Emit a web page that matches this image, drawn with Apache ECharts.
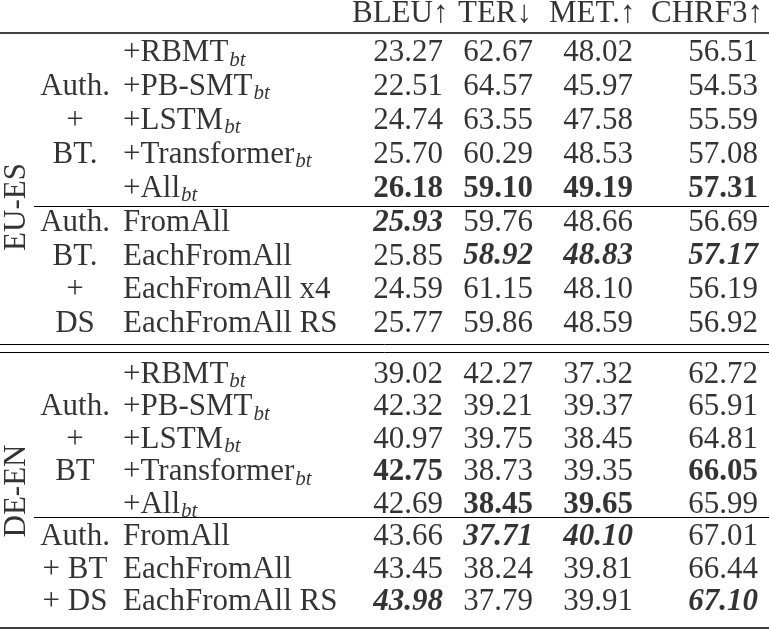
<!DOCTYPE html>
<html><head><meta charset="utf-8">
<script src="https://cdn.jsdelivr.net/npm/echarts@6/dist/echarts.min.js"></script>
<style>html,body{margin:0;padding:0;background:#fff}#c{width:769px;height:634px}</style>
</head><body><div id="c"></div>
<script>
// ---------- data ----------
const metrics = ['BLEU_↑', 'TER_↓', 'MET._↑', 'CHRF3_↑'];
const blockNames = ['EU-ES', 'DE-EN'];

const euSystems = ['+RBMT_bt', '+PB-SMT_bt', '+LSTM_bt', '+Transformer_bt', '+All_bt',
  'FromAll', 'EachFromAll', 'EachFromAll x4', 'EachFromAll RS'];
const euGroups = ['', 'Auth.', '+', 'BT.', '', 'Auth.', 'BT.', '+', 'DS'];
const euBLEU = [23.27, 22.51, 24.74, 25.70, 26.18, 25.93, 25.85, 24.59, 25.77];
const euTER  = [62.67, 64.57, 63.55, 60.29, 59.10, 59.76, 58.92, 61.15, 59.86];
const euMET  = [48.02, 45.97, 47.58, 48.53, 49.19, 48.66, 48.83, 48.10, 48.59];
const euCHRF = [56.51, 54.53, 55.59, 57.08, 57.31, 56.69, 57.17, 56.19, 56.92];
// b = bold, i = bold italic, . = regular (per metric column)
const euEmph = ['....', '....', '....', '....', 'bbbb', 'i...', '.iii', '....', '....'];

const deSystems = ['+RBMT_bt', '+PB-SMT_bt', '+LSTM_bt', '+Transformer_bt', '+All_bt',
  'FromAll', 'EachFromAll', 'EachFromAll RS'];
const deGroups = ['', 'Auth.', '+', 'BT', '', 'Auth.', '+ BT', '+ DS'];
const deBLEU = [39.02, 42.32, 40.97, 42.75, 42.69, 43.66, 43.45, 43.98];
const deTER  = [42.27, 39.21, 39.75, 38.73, 38.45, 37.71, 38.24, 37.79];
const deMET  = [37.32, 39.37, 38.45, 39.35, 39.65, 40.10, 39.81, 39.91];
const deCHRF = [62.72, 65.91, 64.81, 66.05, 65.99, 67.01, 66.44, 67.10];
const deEmph = ['....', '....', '....', 'b..b', '.bb.', '.ii.', '....', 'i..i'];

// ---------- layout ----------
const W = 769, H = 634;
const FONT = 'Liberation Serif';
const FS = 31;
const DY = 2;
const headerY = 14;
const headerLeft = [352, 458, 549, 651];
const numRight = [443, 533, 633, 758];
const groupX = 75, sysX = 123, blockX = 17;
const blocks = [
  { name: blockNames[0], sys: euSystems, grp: euGroups, vals: [euBLEU, euTER, euMET, euCHRF], emph: euEmph,
    y0: 51, pitch: 33.9, labelY: 207 },
  { name: blockNames[1], sys: deSystems, grp: deGroups, vals: [deBLEU, deTER, deMET, deCHRF], emph: deEmph,
    y0: 372.5, pitch: 32.5, labelY: 491 }
];

const items = [];
function txt(x, y, formatter, extra) {
  items.push({ value: [x, y], label: Object.assign({ formatter: formatter }, extra || {}) });
}
metrics.forEach((m, k) => {
  const p = m.split('_');
  txt(headerLeft[k], headerY, '{m|' + p[0] + '}{a|' + p[1] + '}', { align: 'left' });
});
blocks.forEach(b => {
  txt(blockX, b.labelY, b.name, { align: 'center', rotate: 90 });
  b.sys.forEach((s, i) => {
    const y = b.y0 + b.pitch * i + DY;
    if (b.grp[i]) txt(groupX, y, b.grp[i], { align: 'center' });
    const parts = s.split('_');
    const f = parts.length > 1 ? '{m|' + parts[0] + '}{s|' + parts[1] + '}' : '{m|' + parts[0] + '}';
    txt(sysX, y, f, { align: 'left' });
    b.vals.forEach((arr, k) => {
      const e = b.emph[i][k];
      txt(numRight[k], y, arr[i].toFixed(2), {
        align: 'right',
        fontWeight: e === '.' ? 'normal' : 'bold',
        fontStyle: e === 'i' ? 'italic' : 'normal'
      });
    });
  });
});

const rules = [
  [0, W, 33, 1.6],
  [34, W, 206.5, 1],
  [0, W, 344, 1],
  [0, W, 352, 1],
  [34, W, 517, 1],
  [0, W, 628, 1.6]
];

const chart = echarts.init(document.getElementById('c'));
chart.setOption({
  animation: false,
  backgroundColor: '#fff',
  grid: { left: 0, right: 0, top: 0, bottom: 0 },
  xAxis: { type: 'value', min: 0, max: W, show: false },
  yAxis: { type: 'value', min: 0, max: H, inverse: true, show: false },
  series: [{
    type: 'scatter',
    symbolSize: 0,
    silent: true,
    data: items,
    label: {
      show: true,
      position: 'inside',
      verticalAlign: 'middle',
      color: '#000',
      fontFamily: FONT,
      fontSize: FS,
      rich: {
        m: { fontFamily: FONT, fontSize: FS, color: '#000' },
        a: { fontFamily: FONT, fontSize: FS, color: '#000' },
        s: { fontFamily: FONT, fontSize: 21, fontStyle: 'italic', color: '#000', padding: [14, 0, 0, 1] }
      }
    },
    markLine: {
      silent: true,
      symbol: 'none',
      label: { show: false },
      lineStyle: { color: '#000', type: 'solid' },
      data: rules.map(r => [
        { coord: [r[0], r[2]], lineStyle: { width: r[3], color: '#000', type: 'solid' } },
        { coord: [r[1], r[2]] }
      ])
    }
  }]
});
</script></body></html>
